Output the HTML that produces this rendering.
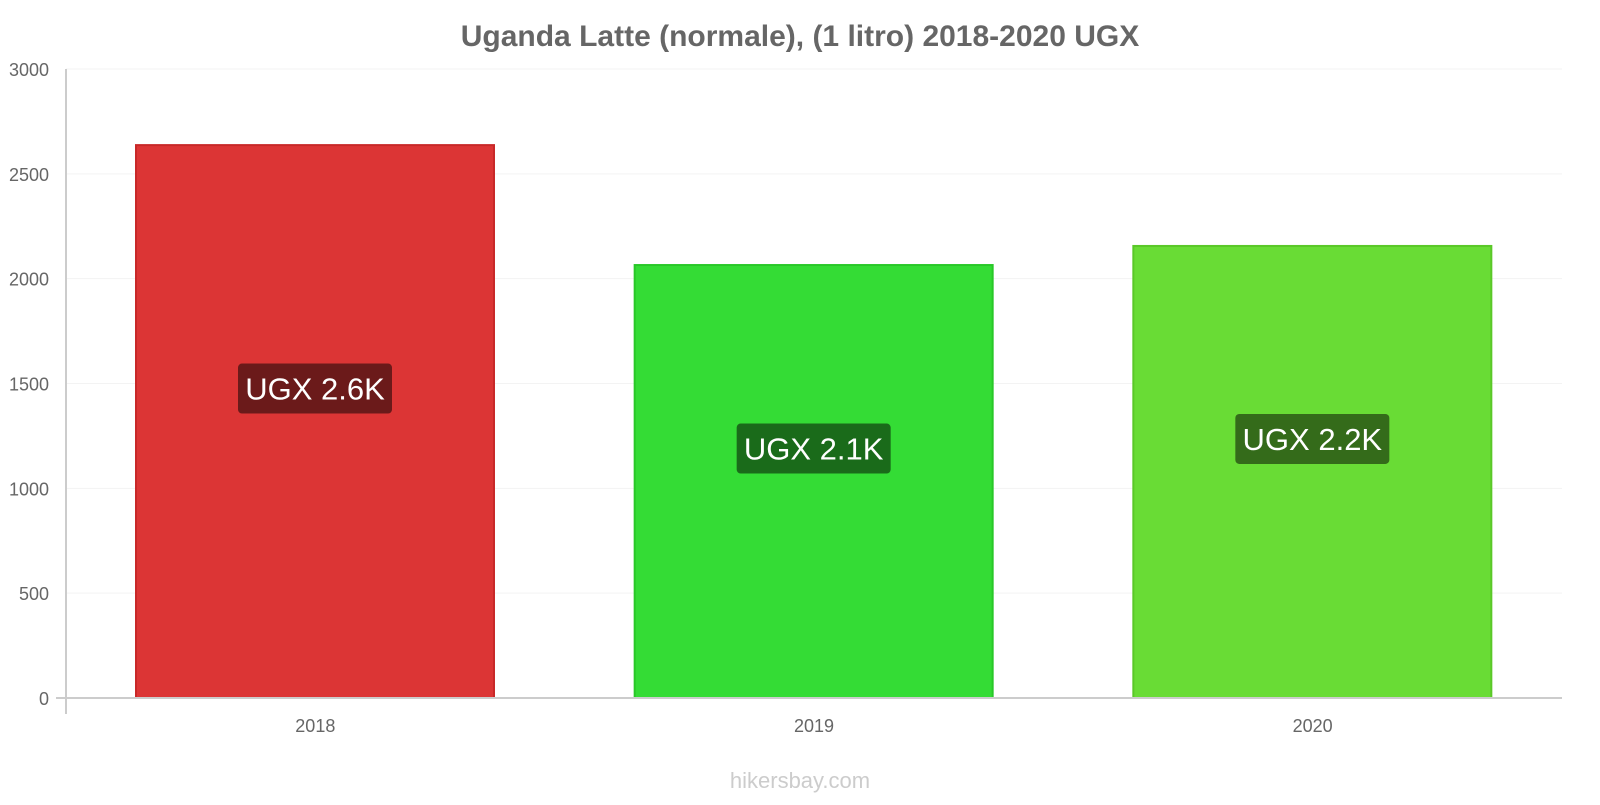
<!DOCTYPE html>
<html><head><meta charset="utf-8"><style>
body{margin:0;background:#fff;font-family:"Liberation Sans",sans-serif}
</style></head><body>
<svg width="1600" height="800" xmlns="http://www.w3.org/2000/svg" id="chart">
<text x="800" y="46" text-anchor="middle" font-size="30" font-weight="bold" fill="#666">Uganda Latte (normale), (1 litro) 2018-2020 UGX</text>
<g id="grid"></g><g id="bars"></g>
<line x1="66" y1="69" x2="66" y2="714" stroke="#ccc" stroke-width="2"/>
<line x1="56" y1="698" x2="1562" y2="698" stroke="#ccc" stroke-width="2"/>
<text x="800" y="788" text-anchor="middle" font-size="22" fill="#ccc">hikersbay.com</text>
</svg>
<script>
const categories=["2018","2019","2020"];
const values=[2637,2065,2156];
const labels=["UGX 2.6K","UGX 2.1K","UGX 2.2K"];
const yTicks=[0,500,1000,1500,2000,2500,3000];
const fills=["#dc3535","#34dc35","#69dc35"];
const strokes=["#c82828","#28c828","#5ac828"];
const labelBg=["#6b1a1a","#1a6b1a","#346b1a"];
const NS="http://www.w3.org/2000/svg";
const y=v=>698-v*(629/3000);
const band=(1562-66)/3;
const x=i=>66+i*band;
const grid=document.getElementById('grid'),bars=document.getElementById('bars');
function mk(t,a,p){const e=document.createElementNS(NS,t);for(const k in a)e.setAttribute(k,a[k]);p.appendChild(e);return e;}
yTicks.forEach(t=>{
 const l=mk('line',{x1:66,x2:1562,y1:y(t),y2:y(t),stroke:'#f3f3f3'},grid);
 
 
 const tx=mk('text',{x:49,y:y(t)+7,'text-anchor':'end','font-size':18,fill:'#666'},grid);
 tx.textContent=t;
 
 
});
categories.forEach((c,i)=>{
 const bx=x(i)+70,bw=358,top=y(values[i]);
 const r=mk('rect',{x:bx,y:top,width:bw,height:698-top,fill:fills[i],stroke:strokes[i],'stroke-width':2},bars);
 
 
 const cy=(top+698)/2-33;
 const bg=mk('rect',{x:bx+bw/2-77,y:cy-25,width:154,height:50,rx:4,fill:labelBg[i]},bars);
 
 
 const lt=mk('text',{x:bx+bw/2,y:cy+11,'text-anchor':'middle','font-size':31,fill:'#fff'},bars);
 lt.textContent=labels[i];
 
 
 const xt=mk('text',{x:x(i)+band/2,y:732,'text-anchor':'middle','font-size':18,fill:'#666'},bars);
 xt.textContent=c;
 
 
});
</script>
</body></html>
